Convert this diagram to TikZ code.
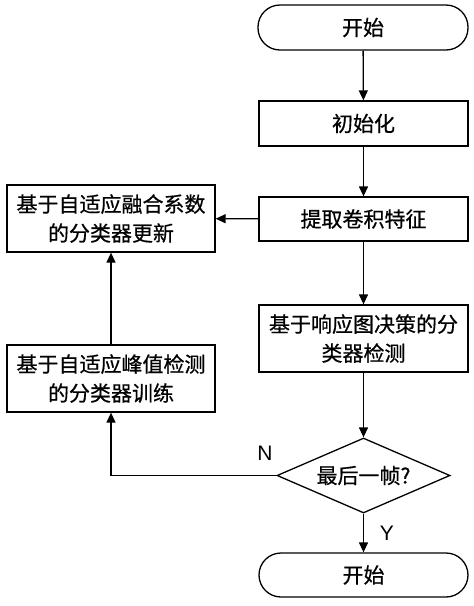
\documentclass[tikz,border=0pt]{standalone}
\usepackage{fontspec}
\setmainfont{Noto Sans CJK SC}[FakeBold=0.6]
\newfontfamily\latinfont{Liberation Sans}
\usetikzlibrary{shapes.geometric,arrows.meta}
\begin{document}
\begin{tikzpicture}[x=1pt,y=-1pt,
  every node/.style={font=\fontsize{21}{29}\selectfont, line width=1.3pt},
  procbox/.style={draw, rectangle, minimum width=209pt, inner sep=0pt, align=center},
  termbox/.style={draw, rectangle, rounded corners=22pt, minimum width=210pt, minimum height=45pt, inner sep=0pt},
  decbox/.style={draw, diamond, aspect=2.3, minimum width=173pt, minimum height=75pt, inner sep=0pt},
  flow/.style={line width=1.3pt, -{Triangle[length=10pt,width=9pt]}},
  lbl/.style={font=\latinfont\fontsize{21}{25}\selectfont}]
\useasboundingbox (0,0) rectangle (474,606);
\node[termbox] (start) at (363,27.5) {开始};
\node[procbox, minimum height=45pt] (init) at (363.5,123.5) {初始化};
\node[procbox, minimum height=44pt] (feat) at (363.5,219) {提取卷积特征};
\node[procbox, minimum height=67pt, minimum width=208pt] (upd) at (111,218.5) {基于自适应融合系数\\的分类器更新};
\node[procbox, minimum height=67pt] (det) at (363.5,338.5) {基于响应图决策的分\\类器检测};
\node[procbox, minimum height=67pt, minimum width=208pt] (train) at (111,378.5) {基于自适应峰值检测\\的分类器训练};
\node[decbox] (dec) at (363.5,475.5) {最后一帧?};
\node[termbox, minimum width=209pt, minimum height=44pt] (stop) at (363.5,575) {开始};
\node[lbl] (nlab) at (265,453) {N};
\node[lbl] (ylab) at (387,533) {Y};
\draw[flow] (start) -- (init);
\draw[flow] (init) -- (feat);
\draw[flow] (feat) -- (upd);
\draw[flow] (feat) -- (det);
\draw[flow] (det) -- (dec);
\draw[flow] (dec) -- (stop);
\draw[flow] (dec.west) -| (train.south);
\draw[flow] (train) -- (upd);
\end{tikzpicture}
\end{document}
